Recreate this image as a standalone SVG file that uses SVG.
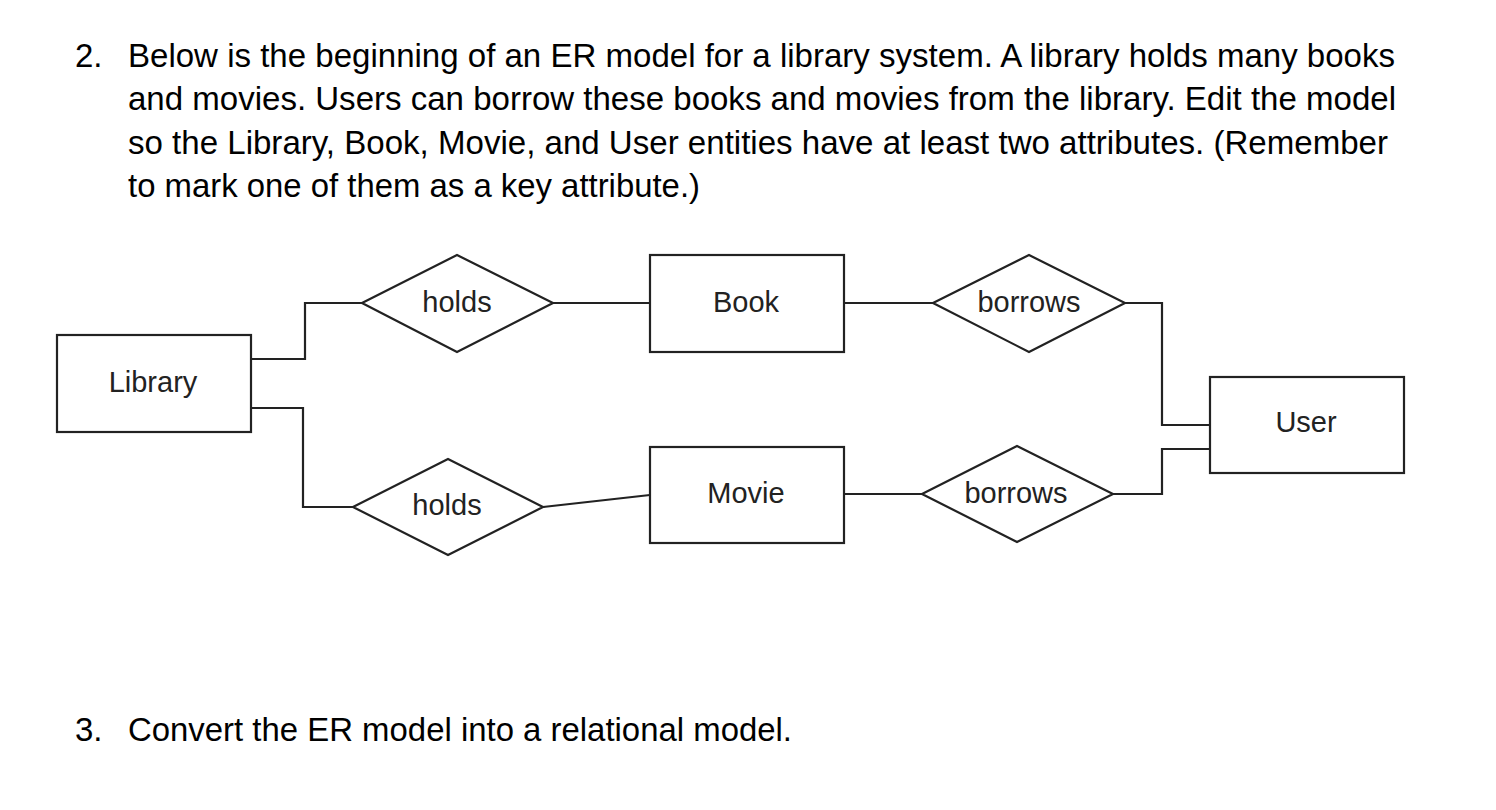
<svg xmlns="http://www.w3.org/2000/svg" width="1496" height="810" viewBox="0 0 1496 810">
<style>
.q{font-family:"Liberation Sans",Arial,Helvetica,sans-serif;font-size:33px;fill:#000}
.lbl{font-family:"Liberation Sans",Arial,Helvetica,sans-serif;font-size:29px;fill:#222;text-anchor:middle}
.ent{fill:#fff;stroke:#222;stroke-width:2.2}
.rel{fill:#fff;stroke:#222;stroke-width:2.2;stroke-linejoin:miter}
.con{fill:none;stroke:#222;stroke-width:2.2}
</style>
<rect width="1496" height="810" fill="#fff"/>
<g id="question">
<text class="q" x="75" y="67">2.</text>
<text class="q" x="128" y="67" textLength="1267" lengthAdjust="spacingAndGlyphs">Below is the beginning of an ER model for a library system. A library holds many books</text>
<text class="q" x="128" y="110" textLength="1268" lengthAdjust="spacingAndGlyphs">and movies. Users can borrow these books and movies from the library. Edit the model</text>
<text class="q" x="128" y="154" textLength="1260" lengthAdjust="spacingAndGlyphs">so the Library, Book, Movie, and User entities have at least two attributes. (Remember</text>
<text class="q" x="128" y="197" textLength="572" lengthAdjust="spacingAndGlyphs">to mark one of them as a key attribute.)</text>
<text class="q" x="75" y="741">3.</text>
<text class="q" x="128" y="741" textLength="664" lengthAdjust="spacingAndGlyphs">Convert the ER model into a relational model.</text>
</g>
<g id="connectors">
<polyline class="con" points="251,359 305,359 305,303 362,303"/>
<polyline class="con" points="251,408 303,408 303,507 353,507"/>
<line class="con" x1="553" y1="303" x2="650" y2="303"/>
<line class="con" x1="543" y1="507" x2="650" y2="495"/>
<line class="con" x1="844" y1="303" x2="933" y2="303"/>
<line class="con" x1="844" y1="494" x2="922" y2="494"/>
<polyline class="con" points="1125,303 1162,303 1162,425 1210,425"/>
<polyline class="con" points="1113,494 1162,494 1162,449 1210,449"/>
</g>
<g id="library">
<rect class="ent" x="57" y="335" width="194" height="97"/>
<text class="lbl" x="153" y="392">Library</text>
</g>
<g id="book">
<rect class="ent" x="650" y="255" width="194" height="97"/>
<text class="lbl" x="746" y="312">Book</text>
</g>
<g id="movie">
<rect class="ent" x="650" y="447" width="194" height="96"/>
<text class="lbl" x="746" y="503">Movie</text>
</g>
<g id="user">
<rect class="ent" x="1210" y="377" width="194" height="96"/>
<text class="lbl" x="1306" y="432">User</text>
</g>
<g id="holds-book">
<polygon class="rel" points="362,303 457,255 553,303 457,352"/>
<text class="lbl" x="457" y="312">holds</text>
</g>
<g id="holds-movie">
<polygon class="rel" points="353,507 448,459 543,507 448,555"/>
<text class="lbl" x="447" y="515">holds</text>
</g>
<g id="borrows-book">
<polygon class="rel" points="933,303 1029,255 1125,303 1029,352"/>
<text class="lbl" x="1029" y="312">borrows</text>
</g>
<g id="borrows-movie">
<polygon class="rel" points="922,494 1017,446 1113,494 1017,542"/>
<text class="lbl" x="1016" y="503">borrows</text>
</g>
</svg>
